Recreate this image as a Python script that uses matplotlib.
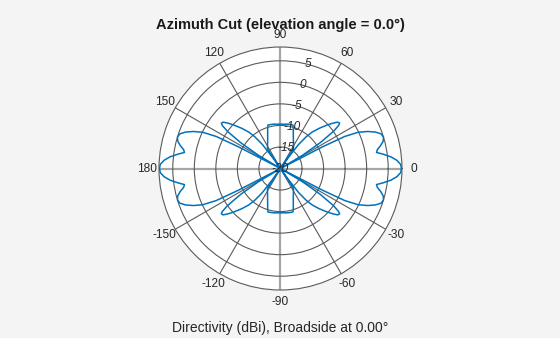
import numpy as np
import matplotlib
matplotlib.use("Agg")
import matplotlib.pyplot as plt

plt.rcParams['font.family'] = ['Liberation Sans', 'DejaVu Sans']

# directivity for 0..90 deg (pattern is symmetric about both axes)
az_q = np.array([0, 2, 4, 6, 8, 9.5, 11, 13, 15, 17, 19, 21, 23, 25, 26.5, 27.3,
                 28, 29, 31, 33, 35, 36.5, 37.5, 39, 41, 43, 46, 49, 51, 53, 54.5,
                 55.5, 56.5, 58, 62, 66, 70, 72.5, 74, 78, 82, 86, 90])
dir_q = np.array([8.1, 7.9, 7.1, 5.8, 4.0, 2.6, 2.9, 3.9, 4.7, 5.0, 4.7, 3.6, 2.0, -0.1, -3.3, -9.0,
                  -20, -20, -14, -9, -5, -3.2, -2.7, -2.9, -4.0, -5.2, -7.0, -8.8, -10.5, -13, -17,
                  -20, -15, -14.3, -13.6, -12.7, -11.3, -10.1, -9.5, -9.55, -9.6, -9.7, -9.7])

az = np.concatenate([az_q, 180 - az_q[::-1], 180 + az_q, 360 - az_q[::-1]])
directivity = np.concatenate([dir_q, dir_q[::-1], dir_q, dir_q[::-1]])

r_min, r_max = -20, 8.2
r_rings = [-15, -10, -5, 0, 5]
r_labels = [5, 0, -5, -10, -15, -20]
theta_ticks = [0, 30, 60, 90, 120, 150, 180, 210, 240, 270, 300, 330]
theta_labels = ['0', '30', '60', '90', '120', '150', '180', '-150', '-120', '-90', '-60', '-30']

fig = plt.figure(figsize=(5.6, 3.38), dpi=100, facecolor='#f4f4f4')
ax = fig.add_axes([0.2839, 0.1420, 0.4339, 0.7189], projection='polar')
ax.set_facecolor('white')

ax.plot(np.deg2rad(az), directivity, color='#0072bd', lw=1.1, zorder=3)

ax.set_rlim(r_min, r_max)
ax.set_rgrids(r_rings, labels=[''] * len(r_rings))
ax.set_thetagrids(theta_ticks, labels=[''] * len(theta_ticks))
ax.grid(True, color='#5a5a5a', lw=0.8)
for t, gl in zip(theta_ticks, ax.xaxis.get_gridlines()):
    if t % 90 == 0:
        gl.set_color('#a6a6a6')
        gl.set_linewidth(1.6)
ax.spines['polar'].set_color('#5a5a5a')
ax.spines['polar'].set_linewidth(0.8)
ax.tick_params(length=0)

# angle labels outside the circle
r_txt = r_min + 133.5 / 121.5 * (r_max - r_min)
for t, lab in zip(theta_ticks, theta_labels):
    ax.text(np.deg2rad(t), r_txt, lab, ha='center', va='center', fontsize=8.6,
            color='#262626', clip_on=False)

# magnitude labels along 75 deg
for v in r_labels:
    ax.text(np.deg2rad(75), v, str(v), ha='center', va='center', fontsize=8.6,
            style='italic', color='#262626', zorder=4)

fig.text(0.5, 0.926, 'Azimuth Cut (elevation angle = 0.0°)', ha='center', va='center',
         fontsize=10.5, fontweight='bold', color='#1a1a1a')
fig.text(0.5, 0.030, 'Directivity (dBi), Broadside at 0.00°', ha='center', va='center',
         fontsize=10, color='#262626')

fig.savefig('out.png', dpi=100, facecolor=fig.get_facecolor())
